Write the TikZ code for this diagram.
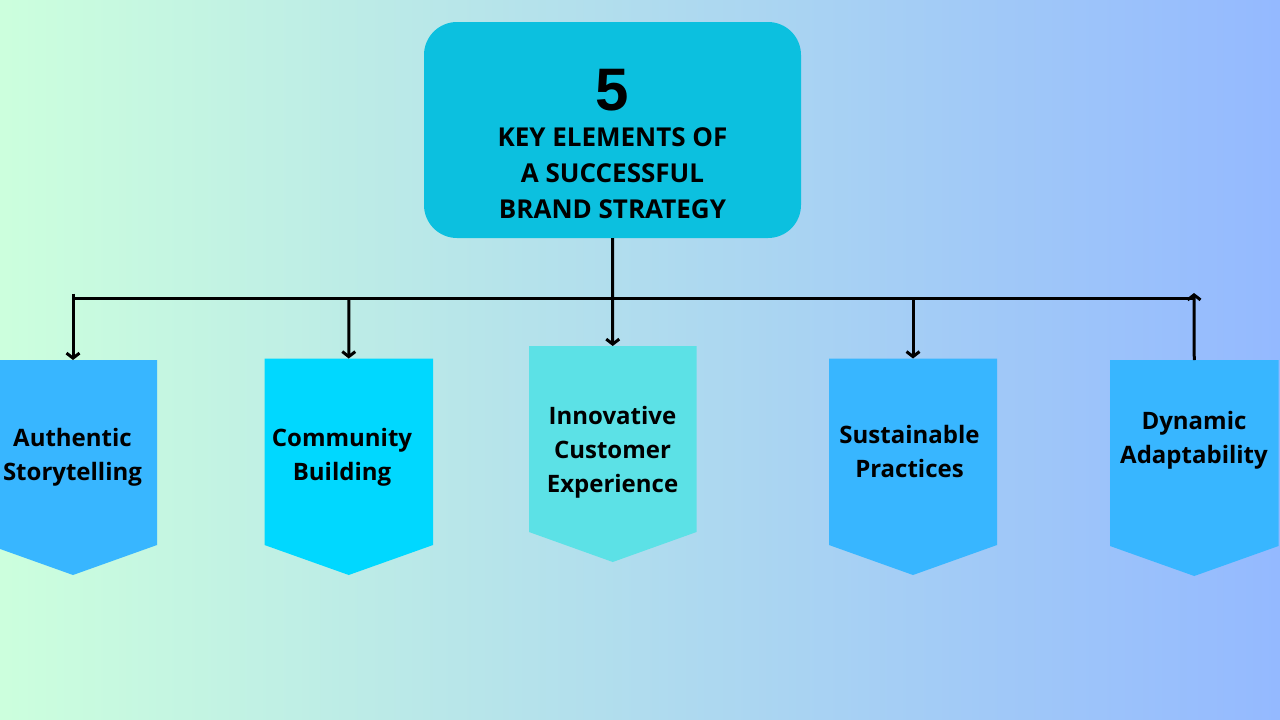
\documentclass[tikz,border=0pt]{standalone}
\usepackage{fontspec}
\setmainfont{Open Sans}
\newfontfamily\digitfont{Liberation Sans}
\usetikzlibrary{arrows.meta}
\definecolor{bgleft}{HTML}{CCFFDD}
\definecolor{bgright}{HTML}{94B9FF}
\definecolor{rootblue}{HTML}{0CC0DF}
\definecolor{skyblue}{HTML}{38B6FF}
\definecolor{cyanblue}{HTML}{00D8FF}
\definecolor{aquablue}{HTML}{5CE1E6}
\tikzset{
  x=1pt,y=-1pt,
  rootbox/.style={draw=none,fill=rootblue,rounded corners=33pt,minimum width=377pt,minimum height=216pt,inner sep=0pt},
  bannerlabel/.style={font=\bfseries\fontsize{24}{34}\selectfont,align=center,text=black,inner sep=0pt},
  titletext/.style={font=\bfseries\fontsize{26}{36}\selectfont,align=center,text=black,inner sep=0pt},
  numbertext/.style={font=\digitfont\bfseries\fontsize{60}{60}\selectfont,text=black,inner sep=0pt},
  conn/.style={draw=black,line width=3pt},
  arr/.style={conn,-{Straight Barb[length=5pt,width=13pt,line width=3pt]}},
}
\newcommand{\banner}[6]{% name, colour, left, right, top, bottom; tip is 30 below
  \coordinate (#1top) at ({(#3+#4)/2},#5);
  \fill[#2] (#3,#5) -- (#4,#5) -- (#4,#6) -- ({(#3+#4)/2},#6+30) -- (#3,#6) -- cycle;
}
\begin{document}
\begin{tikzpicture}
\clip (0,0) rectangle (1280,720);
\useasboundingbox (0,0) rectangle (1280,720);
\shade[left color=bgleft,right color=bgright] (0,0) rectangle (1280,720);

\node[rootbox] (root) at (612.5,130) {};
\node[numbertext] (five) at (612.5,90.5) {5};
\node[titletext] (title) at (612.5,173) {KEY ELEMENTS OF\\A SUCCESSFUL\\BRAND STRATEGY};

\banner{a}{skyblue}{-11}{157}{360}{545}
\banner{b}{cyanblue}{264.5}{433}{358.5}{545}
\banner{c}{aquablue}{529}{696.5}{346}{532}
\banner{d}{skyblue}{829}{997}{358.5}{545}
\banner{e}{skyblue}{1110}{1278.5}{360}{546}

\node[bannerlabel] (atext) at (72.5,457) {Authentic\\Storytelling};
\node[bannerlabel] (btext) at (342,457) {Community\\Building};
\node[bannerlabel] (ctext) at (612.5,452.5) {Innovative\\Customer\\Experience};
\node[bannerlabel] (dtext) at (909.5,451.5) {Sustainable\\Practices};
\node[bannerlabel] (etext) at (1194,440.5) {Dynamic\\Adaptability};

\coordinate (busl) at (73,298.5);
\coordinate (busr) at (1194,298.5);
\coordinate (ldrop) at (73,293.5);
\coordinate (bdrop) at (349,298.5);
\coordinate (ddrop) at (913,298.5);
\coordinate (rtip) at (1194,293);

\draw[conn] (busl) -- (busr);
\draw[arr] (ldrop) -- (atop);
\draw[arr] (bdrop) -- (btop);
\draw[arr] (root.south) -- (ctop);
\draw[arr] (ddrop) -- (dtop);
\draw[arr] (etop) -- (rtip);
\end{tikzpicture}
\end{document}
